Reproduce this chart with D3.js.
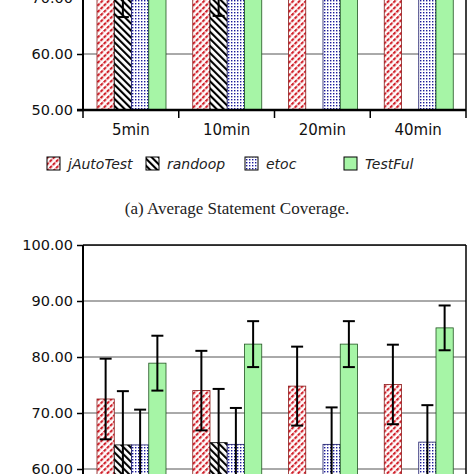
<!DOCTYPE html><html><head><script src="https://cdn.jsdelivr.net/npm/d3@7"></script>
<style>body{margin:0;background:#fff}</style></head><body><svg id="c" width="474" height="474"></svg><script>
const categories=["5min","10min","20min","40min"];
const series=["jAutoTest","randoop","etoc","TestFul"];
// top panel (Average Statement Coverage) - values above 70 cut off
const topValues=[[82,72,79,86],[83,72.5,79.5,88],[84,null,80,88],[84.5,null,80.5,90]];
const topErrors=[[4,5.4,4,4],[4,5.7,4,4],[4,0,4,4],[4,0,4,4]];
// bottom panel
const botValues=[[72.5,64.3,64.3,78.9],[74.0,64.7,64.4,82.3],[74.8,null,64.4,82.3],[75.1,null,64.8,85.2]];
const botErrors=[[7.2,9.6,6.3,4.9],[7.1,9.6,6.5,4.1],[7.05,0,6.6,4.1],[7.1,0,6.6,4.0]];
const topTicks=[50,60,70];
const botTicks=[60,70,80,90,100];

const svg=d3.select("#c");
const defs=svg.append("defs");
let p=defs.append("pattern").attr("id","pA").attr("patternUnits","userSpaceOnUse").attr("width",4.5).attr("height",4.5).attr("patternTransform","rotate(45)");
p.append("rect").attr("width",4.5).attr("height",4.5).attr("fill","#fff");
p.append("line").attr("x1",1).attr("y1",0).attr("x2",1).attr("y2",4.5).attr("stroke","#d0202a").attr("stroke-width",2.2).attr("stroke-dasharray","3,1");
p=defs.append("pattern").attr("id","pR").attr("patternUnits","userSpaceOnUse").attr("width",5).attr("height",5).attr("patternTransform","rotate(-45)");
p.append("rect").attr("width",5).attr("height",5).attr("fill","#fff");
p.append("line").attr("x1",1).attr("y1",0).attr("x2",1).attr("y2",5).attr("stroke","#000").attr("stroke-width",2.2);
p=defs.append("pattern").attr("id","pE").attr("patternUnits","userSpaceOnUse").attr("width",3).attr("height",3);
p.append("rect").attr("width",3).attr("height",3).attr("fill","#fff");
p.append("rect").attr("width",1.4).attr("height",1.4).attr("fill","#1a1a9a");
const fills=["url(#pA)","url(#pR)","url(#pE)","#a6f5a6"];
const strokes=["#8a1a1a","#000","#1a1a6a","#225522"];

const x0=d3.scaleBand().domain(categories).range([83,466]).paddingInner(0).paddingOuter(0);
const x1=d3.scaleBand().domain(series).range([14,83]);

function panel(values,errors,ticks,y,clipTop,clipBottom,id){
  defs.append("clipPath").attr("id",id).append("rect").attr("x",0).attr("y",clipTop).attr("width",474).attr("height",clipBottom-clipTop);
  const g=svg.append("g").attr("clip-path",`url(#${id})`);
  g.selectAll(".gr").data(ticks).join("line").attr("x1",83).attr("x2",466).attr("y1",d=>y(d)).attr("y2",d=>y(d)).attr("stroke","#555").attr("stroke-width",1);
  categories.forEach((c,i)=>{
    series.forEach((s,j)=>{
      const v=values[i][j]; if(v==null) return;
      const bx=x0(c)+x1(s);
      g.append("rect").attr("x",bx).attr("y",y(v)).attr("width",x1.bandwidth()).attr("height",y(y.domain()[0])-y(v)+20).attr("fill",fills[j]).attr("stroke",strokes[j]).attr("stroke-width",0.8);
      const e=errors[i][j]; if(!e) return;
      const cx=bx+x1.bandwidth()/2;
      g.append("line").attr("x1",cx).attr("x2",cx).attr("y1",y(v-e)).attr("y2",y(v+e)).attr("stroke","#000").attr("stroke-width",2);
      [v-e,v+e].forEach(t=>g.append("line").attr("x1",cx-6).attr("x2",cx+6).attr("y1",y(t)).attr("y2",y(t)).attr("stroke","#000").attr("stroke-width",2));
    });
  });
  const ax=svg.append("g").attr("clip-path",`url(#${id})`);
  ax.append("line").attr("x1",83).attr("x2",83).attr("y1",clipTop).attr("y2",clipBottom).attr("stroke","#000").attr("stroke-width",2);
  ax.append("line").attr("x1",466).attr("x2",466).attr("y1",clipTop).attr("y2",clipBottom).attr("stroke","#000").attr("stroke-width",1.5);
  const yl=svg.append("g").attr("transform","translate(83,0)").call(d3.axisLeft(y).tickValues(ticks).tickFormat(d3.format(".2f")).tickSize(6));
  yl.select(".domain").remove();
  yl.selectAll("text").attr("font-family","DejaVu Sans").attr("font-size",14.5).attr("fill","#111").attr("dx",-1);
  yl.selectAll("line").attr("stroke","#000").attr("stroke-width",1.5);
}
const yTop=d3.scaleLinear().domain([50,70]).range([110,-2]);
panel(topValues,topErrors,topTicks,yTop,-10,110,"cT");
svg.append("line").attr("x1",77).attr("x2",466).attr("y1",110).attr("y2",110).attr("stroke","#000").attr("stroke-width",2.5);
const xa=svg.append("g").attr("transform","translate(0,120)").call(d3.axisBottom(x0).tickSize(0));
xa.select(".domain").remove();
xa.selectAll("text").attr("font-family","DejaVu Sans").attr("font-size",15).attr("fill","#111").attr("dy",12);
svg.selectAll(".xt").data(d3.range(categories.length+1)).join("line").attr("x1",d=>83+d*x0.bandwidth()).attr("x2",d=>83+d*x0.bandwidth()).attr("y1",110).attr("y2",118).attr("stroke","#000").attr("stroke-width",1.5);

const yBot=d3.scaleLinear().domain([60,100]).range([469,245]);
panel(botValues,botErrors,botTicks,yBot,245,474,"cB");
svg.append("line").attr("x1",83).attr("x2",466).attr("y1",245).attr("y2",245).attr("stroke","#000").attr("stroke-width",1.5);

// legend
const legX=[47,146,245,344];
series.forEach((s,j)=>{
  svg.append("rect").attr("x",legX[j]).attr("y",157).attr("width",13).attr("height",13).attr("fill",fills[j]).attr("stroke","#000").attr("stroke-width",1);
  svg.append("text").attr("x",legX[j]+21).attr("y",169).text(s).attr("font-family","DejaVu Sans").attr("font-style","italic").attr("font-size",14).attr("fill","#222");
});
svg.append("text").attr("x",237).attr("y",214).attr("text-anchor","middle").text("(a)  Average Statement Coverage.").attr("font-family","Liberation Serif").attr("font-size",17).attr("fill","#222");
</script></body></html>
